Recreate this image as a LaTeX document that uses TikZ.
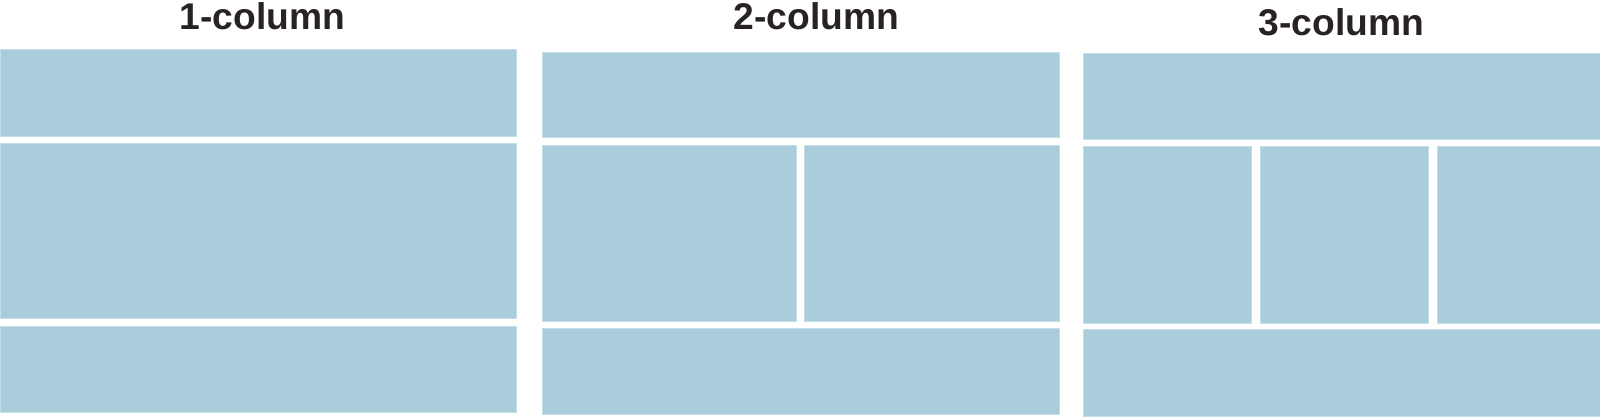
\documentclass[tikz,border=0pt]{standalone}
\usepackage{fontspec}
\setmainfont{Liberation Sans}
\usepackage{tikz}
\definecolor{paneblue}{HTML}{AACDDC}
\definecolor{paneedge}{HTML}{C4DEE8}
\definecolor{titleink}{HTML}{282223}
\tikzset{
  pane/.style={fill=paneblue,draw=paneedge,line width=0.8pt},
  coltitle/.style={anchor=base,inner sep=0pt,text=titleink,font=\fontsize{37.2}{40}\selectfont\bfseries}
}

\begin{document}
\begin{tikzpicture}[x=1pt,y=-1pt]
		\useasboundingbox (0,0) rectangle (1600,416);
		% 1-column
		\node[coltitle] (t1) at (262.5,29.5) {1-column};
		\draw[pane] (0.5,49) rectangle (516,136);
		\draw[pane] (0.5,143) rectangle (516,318);
		\draw[pane] (0.5,326) rectangle (516,412);
		% 2-column
		\node[coltitle] (t2) at (816.5,29) {2-column};
		\draw[pane] (542,52) rectangle (1059,137.5);
		\draw[pane] (542,145) rectangle (796,321.5);
		\draw[pane] (804,145) rectangle (1059,321.5);
		\draw[pane] (542,328) rectangle (1059,414);
		% 3-column
		\node[coltitle] (t3) at (1341.5,35) {3-column};
		\draw[pane] (1083,53.5) rectangle (1600,139);
		\draw[pane] (1083,146.5) rectangle (1251,323);
		\draw[pane] (1260,146.7) rectangle (1428.5,323.5);
		\draw[pane] (1437,146.5) rectangle (1600,323);
		\draw[pane] (1083,329) rectangle (1600,416);
\end{tikzpicture}
\end{document}
